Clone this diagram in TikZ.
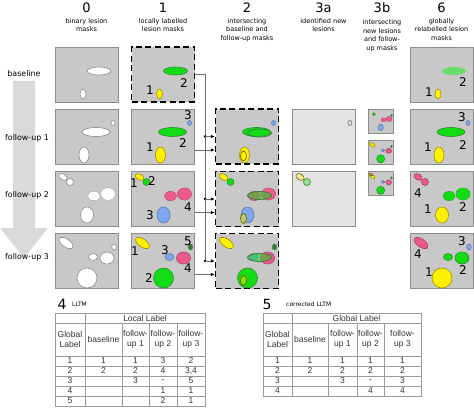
\documentclass[tikz,border=0pt]{standalone}
\usepackage{fontspec}
\setmainfont{DejaVu Sans}
\newfontfamily\tabfont{Liberation Sans}
\usetikzlibrary{arrows.meta}

\definecolor{boxfill}{HTML}{C8C8C8}
\definecolor{boxline}{HTML}{8C8C8C}
\definecolor{newfill}{HTML}{E4E4E4}
\definecolor{arrowgrey}{HTML}{DADADA}
\definecolor{lyel}{HTML}{FFF000}
\definecolor{lyelline}{HTML}{9C8E00}
\definecolor{lgrn}{HTML}{14DC14}
\definecolor{lgrnline}{HTML}{2E8B2E}
\definecolor{lgrnpale}{HTML}{6ADC6A}
\definecolor{lblu}{HTML}{80A8EC}
\definecolor{lbluline}{HTML}{5A78B0}
\definecolor{lpnk}{HTML}{EC5A8C}
\definecolor{lpnkline}{HTML}{A8406A}
\definecolor{ldkg}{HTML}{3A7A3A}
\definecolor{linegrey}{HTML}{6E6E6E}
\definecolor{tabline}{HTML}{9A9A9A}
\definecolor{tabtext}{HTML}{333333}

% lesion sets, relative to the centre of a mask
\newcommand{\lesbase}[2]{%
  \draw[#1] (12.5,-3.5) ellipse [x radius=12,y radius=4];
  \draw[#2] (-3.5,19.5) ellipse [x radius=3,y radius=5];}
\newcommand{\lesfuone}[3]{%
  \draw[#1] (9.5,-4.5) ellipse [x radius=14,y radius=4.5];
  \draw[#2] (-2.5,18.5) ellipse [x radius=5,y radius=8];
  \draw[#3] (26.5,-13.5) ellipse [x radius=2,y radius=2.5];}
\newcommand{\lesfutwo}[4]{%
  \draw[#1,rotate around={-30:(-23.5,-22)}] (-23.5,-22) ellipse [x radius=4.5,y radius=3];
  \draw[#2] (-16.5,-17) circle [radius=3.5];
  \draw[#3] (7.5,-3) ellipse [x radius=6,y radius=4.5] (21.5,-5) ellipse [x radius=7,y radius=6];
  \path[#3,draw=none] (7.5,-3) ellipse [x radius=6,y radius=4.5] (21.5,-5) ellipse [x radius=7,y radius=6];
  \draw[#4] (0.5,16) ellipse [x radius=6.5,y radius=8];}
\newcommand{\lesfuthree}[5]{%
  \draw[#1,rotate around={-35:(-20.5,-18)}] (-20.5,-18) ellipse [x radius=8,y radius=4];
  \draw[#2] (27.5,-14) ellipse [x radius=2.3,y radius=3];
  \draw[#3] (6.5,-4) ellipse [x radius=4.5,y radius=3.5];
  \draw[#4] (20.5,-3) ellipse [x radius=7,y radius=6];
  \draw[#5] (0.5,17) circle [radius=10];}

\begin{document}
\begin{tikzpicture}[x=1pt,y=-1pt,
    maskbox/.style={draw=boxline,fill=boxfill,line width=0.9pt,minimum width=63pt,minimum height=55pt,inner sep=0pt},
    isectbox/.style={maskbox,draw=black,line width=1.5pt,dash pattern=on 6pt off 3.5pt},
    newbox/.style={maskbox,fill=newfill},
    tinybox/.style={maskbox,minimum width=25pt,minimum height=24pt},
    colnum/.style={font=\fontsize{13}{13}\selectfont,inner sep=0pt},
    coltxt/.style={font=\fontsize{6.5}{8.5}\selectfont,align=center,inner sep=0pt,anchor=north},
    rowtxt/.style={font=\fontsize{7.9}{8}\selectfont,inner sep=0pt},
    num/.style={font=\fontsize{12}{12}\selectfont,inner sep=0pt},
    wl/.style={fill=white,draw=boxline,line width=0.6pt},
    yl/.style={fill=lyel,draw=lyelline,line width=0.6pt},
    gl/.style={fill=lgrn,draw=lgrnline,line width=0.6pt},
    gp/.style={fill=lgrnpale,draw=none},
    bl/.style={fill=lblu,draw=lbluline,line width=0.6pt},
    pl/.style={fill=lpnk,draw=lpnkline,line width=0.6pt},
    dl/.style={fill=ldkg,draw=ldkg,line width=0.4pt},
    og/.style={fill=lgrn,fill opacity=0.5,draw=ldkg,line width=0.8pt},
    oy/.style={fill=lyel,fill opacity=0.5,draw=lyelline!70!black,line width=0.7pt},
    fy/.style={fill=lyel,fill opacity=0.3,draw=none},
    ny/.style={fill=lyel!35!newfill,draw=lyelline!70!black,line width=0.6pt},
    ng/.style={fill=lgrn!35!newfill,draw=lgrnline,line width=0.6pt},
    nd/.style={fill=newfill,draw=black!60,line width=0.6pt},
    conn/.style={draw=linegrey,line width=0.6pt},
    tip/.style={-{Latex[length=4pt,width=3.4pt,color=black]}},
    tabtxt/.style={font=\tabfont\fontsize{8.5}{10}\selectfont,align=center,inner sep=0pt,text=tabtext},
    tabrule/.style={draw=tabline,line width=0.6pt}]
  \useasboundingbox (0,0) rectangle (474,409);

  % time arrow and rows
  \fill[arrowgrey] (13,81) -- (35,81) -- (35,228) -- (48,228) -- (24,258) -- (0,228) -- (13,228) -- cycle;
  \node[rowtxt] (rbase) at (24,74) {baseline};
  \node[rowtxt] (rfu1) at (27,138) {follow-up 1};
  \node[rowtxt] (rfu2) at (27,195) {follow-up 2};
  \node[rowtxt] (rfu3) at (27,257) {follow-up 3};

  % column heads
  \node[colnum] (h0) at (86.5,8) {0};
  \node[colnum] (h1) at (163,8) {1};
  \node[colnum] (h2) at (247,8) {2};
  \node[colnum] (h3a) at (323.5,8) {3a};
  \node[colnum] (h3b) at (382,8) {3b};
  \node[colnum] (h6) at (441.5,8) {6};
  \node[coltxt] (s0) at (86.5,18) {binary lesion\\masks};
  \node[coltxt] (s1) at (163,18) {locally labelled\\lesion masks};
  \node[coltxt] (s2) at (247,18) {intersecting\\baseline and\\follow-up masks};
  \node[coltxt] (s3a) at (323.5,18) {identified new\\lesions};
  \node[coltxt] (s3b) at (382,19.5) {intersecting\\new lesions\\and follow-\\up masks};
  \node[coltxt] (s6) at (441.5,18) {globally\\relabelled lesion\\masks};

  % masks
  \node[maskbox] (b0r1) at (86.5,74.5) {};
  \node[maskbox] (b0r2) at (86.5,136.5) {};
  \node[maskbox] (b0r3) at (86.5,199) {};
  \node[maskbox] (b0r4) at (86.5,261) {};
  \node[isectbox] (b1r1) at (163,74.5) {};
  \node[maskbox] (b1r2) at (163,136.5) {};
  \node[maskbox] (b1r3) at (163,199) {};
  \node[maskbox] (b1r4) at (163,261) {};
  \node[isectbox] (b2r2) at (247,136.5) {};
  \node[isectbox] (b2r3) at (247,199) {};
  \node[isectbox] (b2r4) at (247,261) {};
  \node[newbox] (b3r2) at (323.5,136.5) {};
  \node[newbox] (b3r3) at (323.5,199) {};
  \node[tinybox] (c3r1) at (380.5,121) {};
  \node[tinybox] (c3r2) at (380.5,152) {};
  \node[tinybox] (c3r3) at (380.5,183.5) {};
  \node[maskbox] (b6r1) at (441.5,74.5) {};
  \node[maskbox] (b6r2) at (441.5,136.5) {};
  \node[maskbox] (b6r3) at (441.5,199) {};
  \node[maskbox] (b6r4) at (441.5,261) {};

  % 0
  \begin{scope}[shift={(b0r1.center)}] \lesbase{wl}{wl} \end{scope}
  \begin{scope}[shift={(b0r2.center)}] \lesfuone{wl}{wl}{wl} \end{scope}
  \begin{scope}[shift={(b0r3.center)}] \lesfutwo{wl}{wl}{wl}{wl} \end{scope}
  \begin{scope}[shift={(b0r4.center)}] \lesfuthree{wl}{wl}{wl}{wl}{wl} \end{scope}

  % 1
  \begin{scope}[shift={(b1r1.center)}]
    \lesbase{gl}{yl}
    \node[num] (n1r1-2) at (21,8.5) {2};
    \node[num] (n1r1-1) at (-13,15.5) {1};
  \end{scope}
  \begin{scope}[shift={(b1r2.center)}]
    \lesfuone{gl}{yl}{bl}
    \node[num] (n1r2-2) at (20,6.5) {2};
    \node[num] (n1r2-1) at (-13,10.5) {1};
    \node[num] (n1r2-3) at (25,-21.5) {3};
  \end{scope}
  \begin{scope}[shift={(b1r3.center)}]
    \lesfutwo{yl}{gl}{pl}{bl}
    \node[num] (n1r3-1) at (-29,-16) {1};
    \node[num] (n1r3-2) at (-11,-18) {2};
    \node[num] (n1r3-4) at (25,8) {4};
    \node[num] (n1r3-3) at (-13,16) {3};
  \end{scope}
  \begin{scope}[shift={(b1r4.center)}]
    \lesfuthree{yl}{dl}{bl}{pl}{gl}
    \node[num] (n1r4-1) at (-28,-10) {1};
    \node[num] (n1r4-5) at (25,-20) {5};
    \node[num] (n1r4-3) at (2,-11) {3};
    \node[num] (n1r4-4) at (25,7) {4};
    \node[num] (n1r4-2) at (-14,17) {2};
  \end{scope}

  % 2
  \begin{scope}[shift={(b2r2.center)}] \lesfuone{gl}{yl}{bl} \lesbase{og}{oy} \end{scope}
  \begin{scope}[shift={(b2r3.center)}] \lesfutwo{yl}{gl}{pl}{bl} \lesbase{og}{oy} \end{scope}
  \begin{scope}[shift={(b2r4.center)}] \lesfuthree{yl}{dl}{bl}{pl}{gl} \lesbase{og}{oy} \end{scope}

  % 3a
  \begin{scope}[shift={(b3r2.center)}]
    \draw[nd] (26.5,-13.5) ellipse [x radius=2,y radius=2.5];
  \end{scope}
  \begin{scope}[shift={(b3r3.center)}]
    \draw[ny,rotate around={-30:(-23.5,-22)}] (-23.5,-22) ellipse [x radius=4.5,y radius=3];
    \draw[ng] (-16.5,-17) circle [radius=3.5];
  \end{scope}

  % 3b
  \begin{scope}[shift={(c3r1.center)},scale=0.4]
    \lesfutwo{fy}{gl}{pl}{bl}
    \draw[dl] (27.5,-14) circle [radius=2.5];
  \end{scope}
  \begin{scope}[shift={(c3r2.center)},scale=0.4] \lesfuthree{yl}{dl}{bl}{pl}{gl} \end{scope}
  \begin{scope}[shift={(c3r3.center)},scale=0.4]
    \lesfuthree{yl}{dl}{bl}{pl}{gl}
    \draw[oy,rotate around={-30:(-23.5,-22)}] (-23.5,-22) ellipse [x radius=4.5,y radius=3];
  \end{scope}

  % 6
  \begin{scope}[shift={(b6r1.center)}]
    \lesbase{gp}{yl}
    \node[num] (n6r1-2) at (21.5,7.5) {2};
    \node[num] (n6r1-1) at (-12.5,17.5) {1};
  \end{scope}
  \begin{scope}[shift={(b6r2.center)}]
    \lesfuone{gl}{yl}{bl}
    \node[num] (n6r2-2) at (21.5,8.5) {2};
    \node[num] (n6r2-1) at (-13.5,10.5) {1};
    \node[num] (n6r2-3) at (20.5,-19.5) {3};
  \end{scope}
  \begin{scope}[shift={(b6r3.center)}]
    \lesfutwo{pl}{pl}{gl}{yl}
    \node[num] (n6r3-4) at (-23.5,-6) {4};
    \node[num] (n6r3-2) at (21.5,8) {2};
    \node[num] (n6r3-1) at (-13.5,10) {1};
  \end{scope}
  \begin{scope}[shift={(b6r4.center)}]
    \lesfuthree{pl}{bl}{gl}{gl}{yl}
    \node[num] (n6r4-4) at (-23.5,-7) {4};
    \node[num] (n6r4-3) at (20.5,-20) {3};
    \node[num] (n6r4-2) at (21.5,9) {2};
    \node[num] (n6r4-1) at (-12.5,11) {1};
  \end{scope}

  % links baseline -> follow-ups
  \coordinate (spine) at (205,74.5);
  \draw[conn] (b1r1.east) -- (spine) -- (spine |- b2r4.west);
  \foreach \r in {2,3,4} {
    \fill (spine |- b2r\r.west) circle [radius=1.5];
    \draw[conn,tip] (spine |- b2r\r.west) -- (b2r\r.west);
    \draw[conn,tip] ([yshift=-13.5pt]b1r\r.east) -- ([yshift=-13.5pt]b2r\r.west);
  }

  % 4
  \node[font=\fontsize{14}{14}\selectfont,inner sep=0pt] (t4num) at (62,304) {4};
  \node[font=\fontsize{6}{6}\selectfont,inner sep=0pt,anchor=west] (t4name) at (72,304.5) {LLTM};
  \draw[tabrule] (55,313) rectangle (205,406);
  \foreach \y in {323,356,366,376,386,396} \draw[tabrule] (55,\y) -- (205,\y);
  \draw[tabrule] (85,313) -- (85,406);
  \foreach \x in {122,149,177} \draw[tabrule] (\x,323) -- (\x,406);
  \node[tabtxt] (t4top) at (145,318) {Local Label};
  \node[tabtxt] (t4-h0) at (70,339.5) {Global\\Label};
  \node[tabtxt] (t4-h1) at (103.5,339.5) {baseline};
  \node[tabtxt] (t4-h2) at (135.5,339.5) {follow-\\up 1};
  \node[tabtxt] (t4-h3) at (163,339.5) {follow-\\up 2};
  \node[tabtxt] (t4-h4) at (191,339.5) {follow-\\up 3};
  \foreach \r/\vals in {1/{0/1,1/1,2/1,3/3,4/2},2/{0/2,1/2,2/2,3/4,4/{3,4}},3/{0/3,2/3,3/-,4/5},4/{0/4,3/1,4/1},5/{0/5,3/2,4/1}}
    \foreach \c/\v in \vals {
      \pgfmathsetmacro\cx{{70,103.5,135.5,163,191}[\c]}
      \node[tabtxt] (t4-\r-\c) at (\cx,351+10*\r) {\v};
    }

  % 5
  \node[font=\fontsize{14}{14}\selectfont,inner sep=0pt] (t5num) at (267,304) {5};
  \node[font=\fontsize{6}{6}\selectfont,inner sep=0pt,anchor=west] (t5name) at (286,304.5) {corrected LLTM};
  \draw[tabrule] (263,313) rectangle (421,396);
  \foreach \y in {323,356,366,376,386} \draw[tabrule] (263,\y) -- (421,\y);
  \draw[tabrule] (292,313) -- (292,396);
  \foreach \x in {328,357,384} \draw[tabrule] (\x,323) -- (\x,396);
  \node[tabtxt] (t5top) at (356.5,318) {Global Label};
  \node[tabtxt] (t5-h0) at (277.5,339.5) {Global\\Label};
  \node[tabtxt] (t5-h1) at (310,339.5) {baseline};
  \node[tabtxt] (t5-h2) at (342.5,339.5) {follow-\\up 1};
  \node[tabtxt] (t5-h3) at (370.5,339.5) {follow-\\up 2};
  \node[tabtxt] (t5-h4) at (402.5,339.5) {follow-\\up 3};
  \foreach \r/\vals in {1/{0/1,1/1,2/1,3/1,4/1},2/{0/2,1/2,2/2,3/2,4/2},3/{0/3,2/3,3/-,4/3},4/{0/4,3/4,4/4}}
    \foreach \c/\v in \vals {
      \pgfmathsetmacro\cx{{277.5,310,342.5,370.5,402.5}[\c]}
      \node[tabtxt] (t5-\r-\c) at (\cx,351+10*\r) {\v};
    }
\end{tikzpicture}
\end{document}
